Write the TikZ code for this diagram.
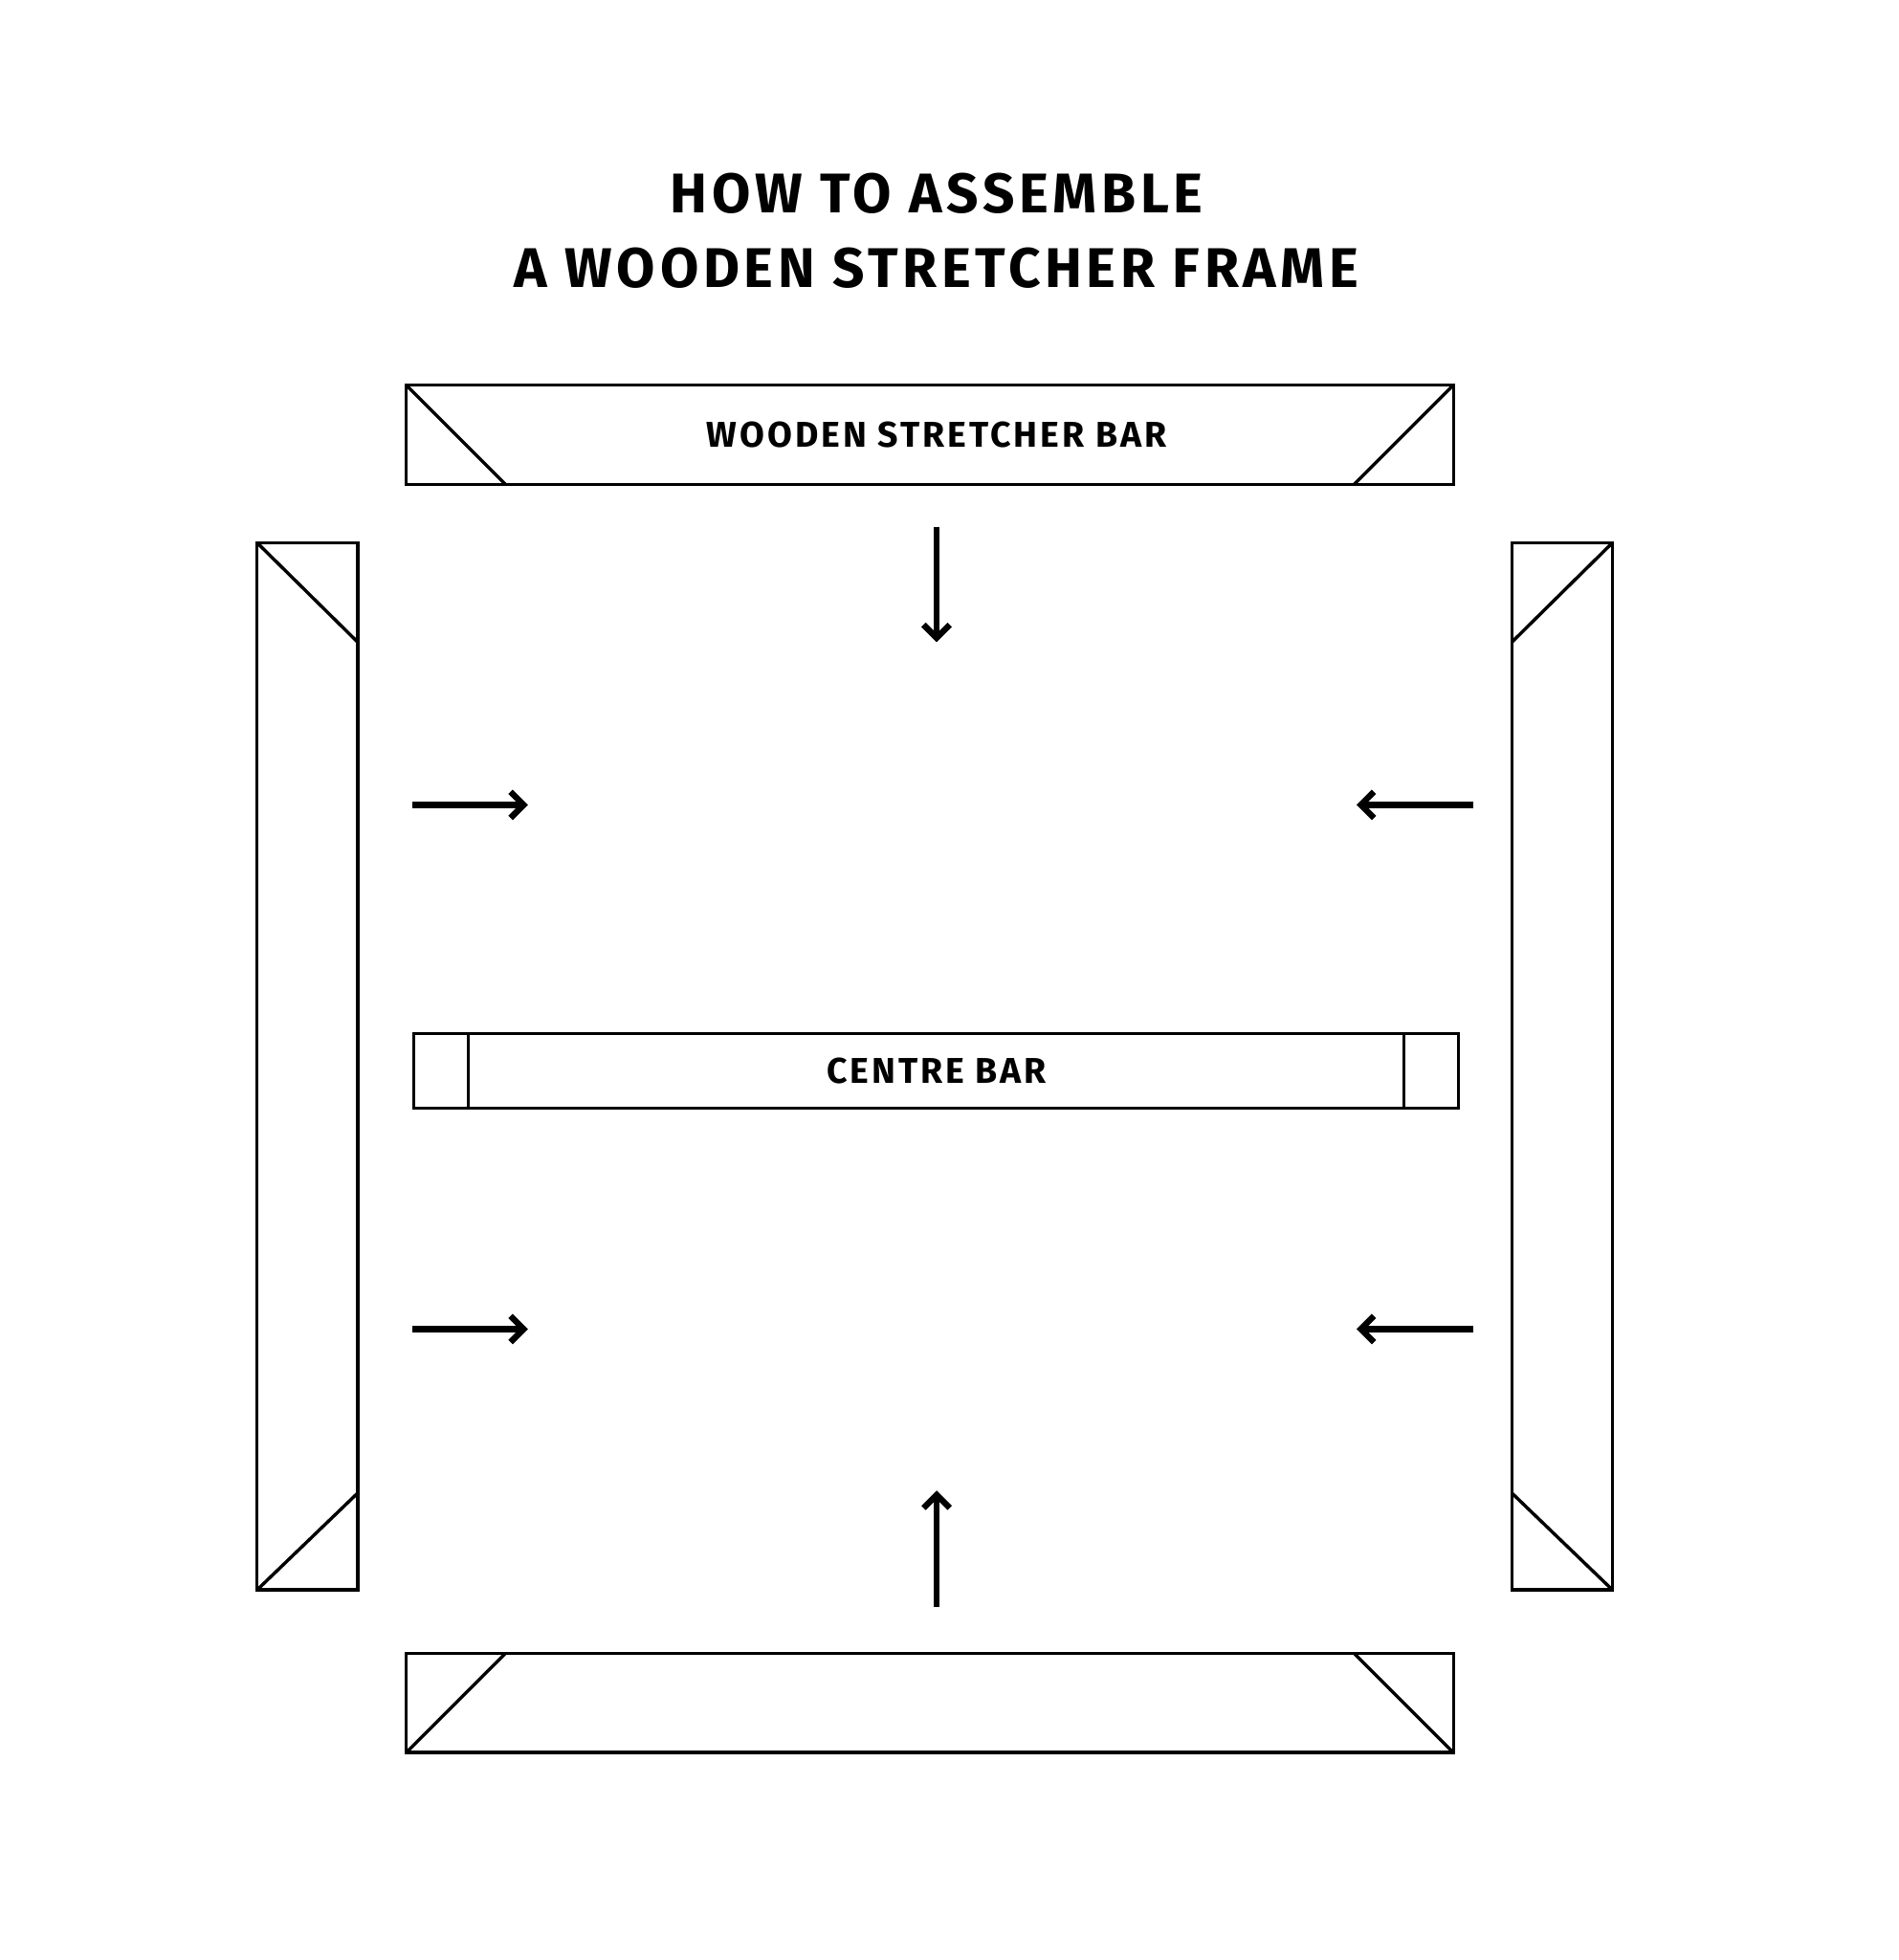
\documentclass[tikz,border=0pt]{standalone}
\usepackage{fontspec}
\setmainfont{Fira Sans}
\newfontfamily\titlefont[LetterSpace=8]{Fira Sans}
\usetikzlibrary{arrows.meta}

\tikzset{
  bar/.style={line width=0.75pt},
  push/.style={-{Straight Barb[length=3pt,width=6pt,line width=1.4pt]}, line width=1.4pt},
  barlabel/.style={font=\titlefont\bfseries\fontsize{8.2}{10}\selectfont},
}

\begin{document}
\begin{tikzpicture}[x=0.01cm, y=-0.01cm]
  \useasboundingbox (0,0) rectangle (1528,1578);
  % title
  \node[font=\titlefont\bfseries\fontsize{12.8}{16}\selectfont, align=center] (title) at (754,186)
    {HOW TO ASSEMBLE\\[1pt] A WOODEN STRETCHER FRAME};

  % top and bottom bars
  \draw[bar] (327,310) rectangle (1170,390);
  \draw[bar] (327,310) -- (407,390) (1170,310) -- (1090,390);
  \node[barlabel] (topbar) at (754,350) {WOODEN STRETCHER BAR};
  \draw[bar] (327,1331) rectangle (1170,1411);
  \draw[bar] (327,1411) -- (407,1331) (1170,1411) -- (1090,1331);

  % side bars
  \draw[bar] (207,437) rectangle (288,1280);
  \draw[bar] (207,437) -- (288,517) (207,1280) -- (288,1202);
  \draw[bar] (1217,437) rectangle (1298,1280);
  \draw[bar] (1298,437) -- (1217,517) (1298,1280) -- (1217,1202);

  % centre bar
  \draw[bar] (333,832) rectangle (1174,892);
  \draw[bar] (377,832) -- (377,892) (1130,832) -- (1130,892);
  \node[barlabel] (centre) at (754,862) {CENTRE BAR};

  % arrows
  \coordinate (t0) at (754,424); \coordinate (t1) at (754,517);
  \coordinate (b0) at (754,1294); \coordinate (b1) at (754,1200);
  \draw[push] (t0) -- (t1);
  \draw[push] (b0) -- (b1);
  \foreach \y/\n in {648/a,1070/b} {
    \coordinate (l\n0) at (332,\y); \coordinate (l\n1) at (425,\y);
    \coordinate (r\n0) at (1186,\y); \coordinate (r\n1) at (1092,\y);
    \draw[push] (l\n0) -- (l\n1);
    \draw[push] (r\n0) -- (r\n1);
  }
\end{tikzpicture}
\end{document}
